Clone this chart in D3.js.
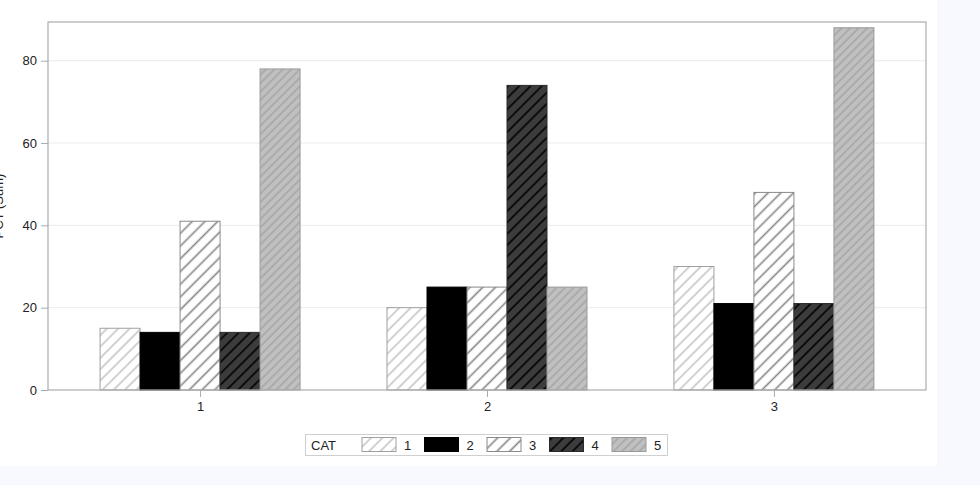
<!DOCTYPE html>
<html><head><meta charset="utf-8">
<script src="https://cdn.jsdelivr.net/npm/d3@7"></script>
<style>
html,body{margin:0;padding:0;background:#f8f9fe;}
svg{display:block;font-family:"Liberation Sans",Arial,sans-serif;}
</style></head>
<body>
<svg id="chart" width="980" height="485"></svg>
<script>
const categories = ["1", "2", "3"];
const seriesNames = ["1", "2", "3", "4", "5"];
const cat1 = [15, 20, 30];
const cat2 = [14, 25, 21];
const cat3 = [41, 25, 48];
const cat4 = [14, 74, 21];
const cat5 = [78, 25, 88];
const yTicks = [0, 20, 40, 60, 80];
const yTitle = "PCT (Sum)";
const legendTitle = "CAT";

const seriesValues = [cat1, cat2, cat3, cat4, cat5];
const styles = [
  {id: "p1", bg: "#ffffff", line: "#a4a4a4", lw: 1, sp: 8, stroke: "#a0a0a0"},
  {id: "p2", bg: "#000000", line: null, lw: 0, sp: 8, stroke: "#000000"},
  {id: "p3", bg: "#ffffff", line: "#858585", lw: 1.6, sp: 9, stroke: "#8a8a8a"},
  {id: "p4", bg: "#3c3c3c", line: "#000000", lw: 1.6, sp: 8, stroke: "#2a2a2a"},
  {id: "p5", bg: "#c0c0c0", line: "#969696", lw: 1, sp: 6, stroke: "#9a9a9a"}
];

const svg = d3.select("#chart");
svg.append("rect").attr("x", 0).attr("y", 0).attr("width", 937).attr("height", 466).attr("fill", "#ffffff");

const defs = svg.append("defs");
styles.forEach(s => {
  if (!s.line) return;
  const p = defs.append("pattern").attr("id", s.id).attr("patternUnits", "userSpaceOnUse")
    .attr("width", s.sp).attr("height", s.sp).attr("patternTransform", "rotate(45)");
  p.append("rect").attr("width", s.sp).attr("height", s.sp).attr("fill", s.bg);
  p.append("line").attr("x1", s.sp / 2).attr("x2", s.sp / 2).attr("y1", 0).attr("y2", s.sp)
    .attr("stroke", s.line).attr("stroke-width", s.lw);
});
const fillOf = i => styles[i].line ? `url(#${styles[i].id})` : styles[i].bg;

const L = 48, R = 926, T = 22, B = 390;
const x = d3.scalePoint().domain(categories).range([L, R]).padding(0.53);
const xi = d3.scaleBand().domain(seriesNames).range([-100, 100]).padding(0);
const y = d3.scaleLinear().domain([0, 89.4]).range([B, T]);

// grid
svg.append("g").selectAll("line").data(yTicks.filter(d => d > 0)).join("line")
  .attr("x1", L).attr("x2", R).attr("y1", d => y(d)).attr("y2", d => y(d))
  .attr("stroke", "#ebebeb").attr("stroke-width", 1);

// bars
seriesNames.forEach((s, si) => {
  svg.append("g").selectAll("rect").data(categories).join("rect")
    .attr("x", (c) => x(c) + xi(s))
    .attr("y", (c, ci) => y(seriesValues[si][ci]))
    .attr("width", xi.bandwidth())
    .attr("height", (c, ci) => y(0) - y(seriesValues[si][ci]))
    .attr("fill", fillOf(si))
    .attr("stroke", styles[si].stroke).attr("stroke-width", 1);
});

// frame
svg.append("rect").attr("x", L).attr("y", T).attr("width", R - L).attr("height", B - T)
  .attr("fill", "none").attr("stroke", "#a8acb0").attr("stroke-width", 1.2);

// axes
const yAxis = d3.axisLeft(y).tickValues(yTicks).tickSize(7).tickPadding(4);
const gy = svg.append("g").attr("transform", `translate(${L},0)`).call(yAxis);
gy.select(".domain").remove();
gy.selectAll("line").attr("stroke", "#a8acb0");
gy.selectAll("text").attr("fill", "#222").style("font-size", "13px").style("font-family", "Liberation Sans, Arial, sans-serif");

const xAxis = d3.axisBottom(x).tickSize(7).tickPadding(5);
const gx = svg.append("g").attr("transform", `translate(0,${B})`).call(xAxis);
gx.select(".domain").remove();
gx.selectAll("line").attr("stroke", "#a8acb0");
gx.selectAll("text").attr("fill", "#222").style("font-size", "13px").style("font-family", "Liberation Sans, Arial, sans-serif");

// y title
svg.append("text").attr("transform", `translate(3,${(T + B) / 2}) rotate(-90)`)
  .attr("text-anchor", "middle").attr("fill", "#222").style("font-size", "13px").text(yTitle);

// legend
const lg = svg.append("g");
lg.append("rect").attr("x", 305.5).attr("y", 434.5).attr("width", 362).attr("height", 21)
  .attr("fill", "#fff").attr("stroke", "#cfcfcf");
lg.append("text").attr("x", 311).attr("y", 450).attr("fill", "#222").style("font-size", "13px").text(legendTitle);
const lx = d3.scalePoint().domain(seriesNames).range([362, 612]);
seriesNames.forEach((s, si) => {
  lg.append("rect").attr("x", lx(s)).attr("y", 437.5).attr("width", 34).attr("height", 14)
    .attr("fill", fillOf(si)).attr("stroke", styles[si].stroke);
  lg.append("text").attr("x", lx(s) + 42).attr("y", 450).attr("fill", "#222").style("font-size", "13px").text(s);
});
</script>
</body></html>
